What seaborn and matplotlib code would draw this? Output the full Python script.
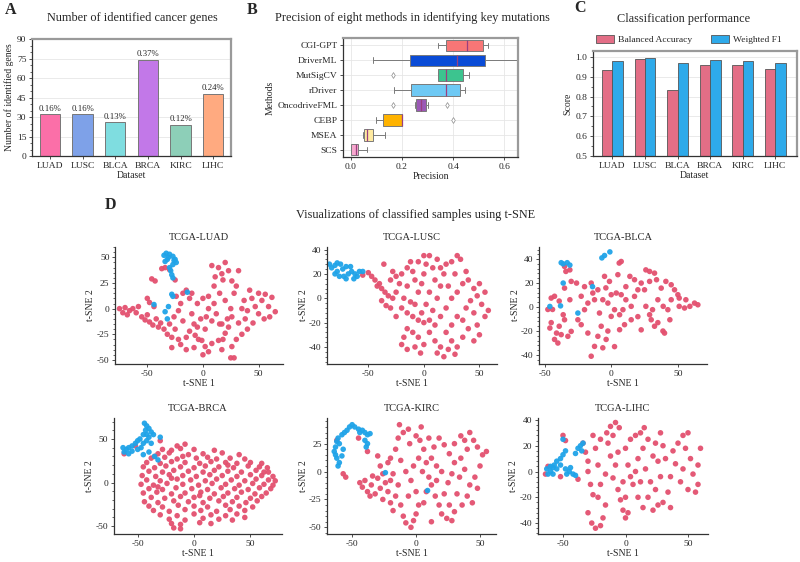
import numpy as np
import pandas as pd
import matplotlib
matplotlib.use('Agg')
import matplotlib.pyplot as plt
import seaborn as sns
from matplotlib.ticker import AutoMinorLocator, MultipleLocator

# ---------------- data ----------------
datasets = ['LUAD', 'LUSC', 'BLCA', 'BRCA', 'KIRC', 'LIHC']

# A: number of identified cancer genes
gene_counts = [32, 32, 26, 74, 24, 48]
gene_pct = ['0.16%', '0.16%', '0.13%', '0.37%', '0.12%', '0.24%']
bar_colors = ['#fb6fa8', '#7ea1e8', '#7fdde0', '#c278e8', '#8dcfb8', '#ffaa80']

# B: precision of the eight methods
methods = ['CGI-GPT', 'DriverML', 'MutSigCV', 'rDriver', 'OncodriveFML', 'CEBP', 'MSEA', 'SCS']
method_colors = ['#f87676', '#0a4bd6', '#3cc48f', '#6ec9f4', '#9b59b6', '#ffb300', '#ffeaa0', '#f7a8cf']
prec_cgi = [0.34, 0.355, 0.37, 0.42, 0.455, 0.48, 0.515, 0.525, 0.535]
prec_driverml = [0.085, 0.15, 0.23, 0.33, 0.415, 0.47, 0.525, 0.60, 0.67]
prec_mutsig = [0.165, 0.34, 0.34, 0.355, 0.37, 0.40, 0.44, 0.46, 0.66]
prec_rdriver = [0.17, 0.20, 0.235, 0.30, 0.37, 0.40, 0.425, 0.435, 0.445]
prec_oncofml = [0.165, 0.25, 0.255, 0.265, 0.275, 0.285, 0.295, 0.30, 0.375]
prec_cebp = [0.10, 0.11, 0.125, 0.16, 0.20, 0.20, 0.20, 0.20, 0.40]
prec_msea = [0.048, 0.049, 0.05, 0.058, 0.065, 0.075, 0.085, 0.11, 0.133]
prec_scs = [0.0, 0.0, 0.002, 0.01, 0.02, 0.024, 0.027, 0.04, 0.063]

# C: classification performance
bal_acc = [0.935, 0.988, 0.833, 0.957, 0.960, 0.940]
weighted_f1 = [0.979, 0.994, 0.972, 0.986, 0.982, 0.972]

# D: t-SNE coordinates
luad_red = [(-75, 0), (-72, -4), (-70, 1), (-68, -6), (-66, -2), (-63, 0), (-60, -4), (-58, 2), (-55, -8),
            (-52, -11), (-50, -6), (-48, -13), (-45, -16), (-42, -10), (-40, -18), (-38, -14),
            (-50, 10), (-48, 6), (-44, 2), (-46, 29), (-43, 27), (-37, 39), (-34, 40), (-25, 28), (-30, 38),
            (-35, -20), (-32, -25), (-28, -28), (-30, -15), (-25, -20), (-22, -30), (-26, -8), (-22, -2),
            (-20, 5), (-24, 12), (-18, 15), (-15, 18), (-12, 10), (-10, -5), (-8, -15), (-12, -22), (-7, -26),
            (-4, -30), (-1, -31), (2, -37), (5, -42), (0, -45), (8, -34), (-15, -28), (-18, -12), (-5, 5),
            (0, 10), (5, 0), (3, -8), (8, -12), (10, 5), (12, -5), (15, -15), (14, -31), (17, -40), (20, -24),
            (23, -18), (17, -15), (26, -37), (25, -48), (28, -48), (18, -30), (22, -10), (25, 0), (20, 8),
            (15, 15), (10, 22), (28, 15), (8, 42), (14, 40), (20, 45), (23, 37), (17, 34), (11, 31), (26, 27),
            (32, 37), (18, 28), (30, 22), (56, 14), (62, 11), (53, 8), (59, 2), (65, -3), (44, 10), (47, 2),
            (40, -2), (38, -10), (26, -8), (32, -14), (37, 8), (50, -5), (55, -10), (45, -14), (60, -8),
            (35, 0), (50, 15), (42, 18), (35, -25), (40, -20), (30, -30), (-10, 15), (-5, -18), (2, -20),
            (-2, -10), (5, 12), (-28, -38), (-20, -35), (-15, -40), (-8, -38)]
luad_blue = [(-35, 52), (-33, 54), (-30, 53), (-27, 51), (-25, 48), (-24, 45), (-27, 43), (-30, 40),
             (-29, 37), (-28, 33), (-27, 30), (-32, 48), (-34, 46), (-31, 50), (-26, 47), (-28, 14),
             (-27, 12), (-14, 16), (-44, 4), (-34, -3), (-32, -10), (-31, 2)]

lusc_red = [(-55, 19), (-50, 21), (-47, 18), (-44, 15), (-40, 12), (-36, 28), (-38, 8), (-42, 10), (-35, 5),
            (-32, 2), (-38, -2), (-34, -6), (-30, -8), (-28, 0), (-25, 5), (-22, 12), (-25, 18), (-20, 20),
            (-15, 25), (-12, 30), (-10, 22), (-8, 15), (-15, 10), (-18, 0), (-12, -3), (-20, -8), (-15, -12),
            (-8, -5), (-5, 5), (-2, 12), (0, 20), (2, 28), (5, 35), (0, 35), (8, 25), (10, 15), (5, 5), (2, -5),
            (8, -10), (12, 0), (15, 10), (18, 20), (20, 28), (25, 30), (30, 35), (33, 32), (28, 20), (22, 10),
            (25, 0), (20, -8), (15, -15), (30, 5), (35, 12), (40, 15), (45, 8), (50, 12), (48, 2), (42, -2),
            (52, -5), (58, -10), (55, -15), (45, -12), (38, -8), (35, -18), (40, -25), (48, -22), (50, -30),
            (45, -35), (35, -32), (30, -40), (25, -35), (20, -28), (15, -40), (12, -45), (18, -48), (28, -46),
            (22, -42), (10, -35), (5, -28), (0, -38), (-5, -32), (-10, -28), (-15, -25), (-18, -32),
            (-20, -38), (-15, -42), (-8, -40), (-3, -45), (0, -20), (-5, -18), (5, -18), (-2, -12), (10, -22),
            (-25, -15), (-30, 15), (12, 32), (-5, 30), (38, 22), (55, 5), (30, -15), (25, -22), (-10, -15),
            (15, 25), (-28, 22)]
lusc_blue = [(-85, 28), (-83, 25), (-80, 27), (-78, 22), (-75, 28), (-73, 24), (-70, 26), (-68, 20),
             (-72, 18), (-76, 18), (-65, 22), (-62, 20), (-60, 18), (-58, 22), (-55, 22), (-80, 20),
             (-66, 26), (-70, 16), (-63, 16), (-78, 29)]

blca_red = [(-45, 7.5), (-42.5, 9), (-44, -2), (-46, -17.5), (-41, -21.7), (-40, -30), (-37.5, -23),
            (-32.5, -24.4), (-30, -20.3), (-35, -10.6), (-36, -6.4), (-31, 6.1), (-35, 15.8), (-30, 21.4),
            (-26, 20), (-34, 29.7), (-35, 33.9), (-31, 31), (-42.5, -27), (-45, -13), (-39, -16), (-39, 5),
            (-47.5, -2), (-22.5, -14.7), (-20, -2.2), (-12.5, 6.1), (-13.8, 11.7), (-15, 20), (-10, 14.4),
            (-6.3, 6.1), (-8.8, -5), (-7.5, -16), (-10, -24.4), (-12.5, -32.8), (-15, -41), (-6.3, -34),
            (-3.8, -27), (-2.5, -20), (0, -7.8), (2.5, -2.2), (-5, 25.6), (-1.3, 21.4), (5, 27), (3.8, 11.7),
            (7.5, 10.3), (11, 6.1), (8.8, -2.2), (6.3, -6.4), (10, -14.7), (6.3, -18.9), (15, -10.6),
            (15, 0.6), (17.5, 8.9), (20, 14.4), (22.5, 20), (26, 31), (28.8, 29.7), (32.5, 28.3),
            (28.8, 21.4), (25, 14.4), (26, 0.6), (28.8, -6.4), (30, -10.6), (32.5, -16), (35, -13),
            (38.8, -20), (40, -21.7), (31, -2.2), (35, 6.1), (37.5, 15.8), (41, 21.4), (45, 18.6),
            (47.5, 14.4), (50, 10.3), (45, 6.1), (51, 0.6), (55, -0.8), (59, 0.6), (62.5, 3.3), (65, 1.9),
            (56, 6.1), (51, 7.5), (42.5, -2.2), (7.5, 38), (6, 36.7), (-20, 17), (-22.5, 9), (-17.5, 3.3),
            (-25, -10.6), (-17.5, -21.7), (2.5, -33), (20, -8), (22.5, -19), (14, 25.6), (17.5, 22.8),
            (11, 17), (34, 22.8), (39, 0.6), (44, -10.6), (0, 10.3), (-4, 16), (-2.5, 3.3)]
blca_blue = [(-37.5, 37), (-36, 36), (-33, 37), (-31, 35), (-7, 41), (-5, 43), (-1, 46), (-46, 0.5),
             (-38, 1), (-36, 20), (-25, -5), (-14, 17)]

brca_red = [(-15, 42), (-8, 44), (-28, 38), (-20, 37), (-12, 39), (0, 38), (18, 37), (-32, 33), (-22, 34),
            (-5, 32), (8, 33), (25, 34), (40, 32), (-38, 28), (-26, 29), (-15, 27), (2, 28), (12, 29),
            (20, 27), (32, 28), (45, 27), (-42, 23), (-30, 22), (-20, 24), (-8, 23), (5, 22), (15, 24),
            (28, 23), (38, 22), (50, 23), (-45, 18), (-35, 17), (-25, 19), (-12, 18), (0, 17), (10, 19),
            (22, 18), (35, 17), (48, 19), (58, 18), (65, 17), (-40, 13), (-28, 12), (-18, 14), (-5, 13),
            (8, 12), (18, 14), (30, 13), (42, 12), (55, 14), (62, 12), (-46, 8), (-34, 7), (-22, 9), (-10, 8),
            (2, 7), (14, 9), (25, 8), (38, 7), (50, 9), (60, 8), (70, 7), (-42, 3), (-30, 2), (-15, 4),
            (-3, 3), (10, 2), (20, 4), (33, 3), (45, 2), (55, 4), (66, 3), (72, 2), (-47, -2), (-36, -3),
            (-24, -1), (-10, -2), (4, -3), (16, -1), (28, -2), (40, -3), (52, -1), (62, -2), (70, -3),
            (-40, -7), (-28, -8), (-16, -6), (-2, -7), (12, -8), (24, -6), (36, -7), (48, -8), (58, -6),
            (68, -7), (-45, -12), (-33, -11), (-20, -13), (-8, -12), (6, -11), (18, -13), (30, -12),
            (42, -11), (54, -13), (64, -12), (-38, -17), (-26, -18), (-12, -16), (0, -17), (14, -18),
            (26, -16), (38, -17), (50, -18), (60, -16), (-44, -22), (-32, -23), (-18, -21), (-5, -22),
            (8, -23), (22, -21), (34, -22), (46, -23), (56, -21), (-40, -27), (-28, -28), (-14, -26),
            (0, -27), (12, -28), (28, -26), (40, -27), (52, -28), (-36, -32), (-22, -33), (-8, -31),
            (6, -32), (20, -33), (32, -31), (45, -32), (-30, -37), (-15, -38), (0, -36), (15, -37),
            (28, -38), (38, -36), (-22, -42), (-8, -43), (8, -41), (22, -42), (34, -43), (-20, -47),
            (-12, -48), (5, -46), (15, -47), (-18, -52), (-12, -53), (-62, 33), (-52, 42), (-35, 30),
            (-30, 48), (-10, 30), (30, 20), (-32, -5), (60, 22), (5, -15), (-20, 5), (45, -40), (66, 12)]
brca_blue = [(-62, 35), (-60, 38), (-58, 40), (-55, 42), (-52, 45), (-50, 48), (-48, 50), (-45, 55),
             (-43, 60), (-42, 65), (-44, 68), (-40, 62), (-38, 58), (-40, 52), (-42, 48), (-45, 45),
             (-38, 45), (-35, 30), (-32, 26), (-55, 36), (-50, 38), (-47, 40), (-63, 40), (-58, 33),
             (-42, 55), (-36, 55), (-30, 52), (-40, 35), (-45, 32)]

kirc_red = [(-62, 28), (-57, -2), (-55, -5), (-45, 30), (-38, 18), (-30, 14), (-22, 8), (-20, 12), (-44, -10),
            (-42, -14), (-40, -8), (-38, -18), (-35, -12), (-32, -20), (-30, -6), (-28, -15), (-26, -25),
            (-24, -10), (-22, -18), (-20, -28), (-18, -35), (-16, -22), (-14, -12), (-12, -30), (-10, -40),
            (-8, -46), (-4, -50), (-2, -44), (0, -38), (2, -30), (-6, -22), (-4, -8), (-8, 0), (-12, 10),
            (-16, 20), (-14, 30), (-13, 42), (-10, 35), (-5, 25), (0, 32), (3, 28), (6, 20), (2, 12), (-2, 5),
            (5, 0), (8, 8), (10, -5), (12, -12), (15, -22), (18, -30), (20, -38), (24, -42), (28, -44),
            (30, -36), (26, -30), (22, -20), (25, -10), (28, -2), (30, 8), (26, 16), (22, 24), (18, 30),
            (14, 22), (10, 30), (12, 12), (16, 5), (20, 0), (34, -5), (38, 2), (35, 12), (40, 20), (38, 28),
            (35, 32), (42, 35), (45, 28), (48, 22), (52, 15), (50, 5), (46, -5), (42, -12), (40, -22),
            (36, -30), (32, -20), (48, -15), (44, -28), (-18, -2), (-26, -2), (-34, -4), (-36, -22),
            (0, -18), (6, -28), (-28, 5), (55, 18), (30, 25), (8, -18), (12, -45), (16, -8), (4, 40),
            (-6, 38), (-20, -8)]
kirc_blue = [(-64, 18), (-63, 22), (-62, 27), (-61, 30), (-60, 25), (-58, 33), (-56, 35), (-54, 37),
             (-52, 40), (-50, 42), (-48, 40), (-45, 38), (-42, 37), (-40, 35), (-38, 33), (-36, 34),
             (-40, 28), (-39, 22), (-38, 25), (-62, 12), (-60, 8), (-58, 14), (-61, 5), (-63, 15),
             (-24, -1), (9, -17), (-44, 35), (-57, 20)]

lihc_red = [(-50, 28), (-48, 24), (-64, -2), (-62, 4), (-52, -4), (-38, -6), (-32, 15), (-30, 8), (-30, 0),
            (-28, -10), (-26, -18), (-30, -32), (-27, -40), (-24, -44), (-20, -42), (-18, -36), (-22, -20),
            (-20, -10), (-22, 5), (-24, 18), (-20, 25), (-15, 30), (-12, 35), (-8, 38), (-5, 34), (-10, 28),
            (-14, 22), (-12, 12), (-8, 5), (-10, -5), (-6, -14), (-4, -22), (-2, -30), (0, -36), (2, -32),
            (0, -20), (-2, -8), (2, 5), (0, 18), (4, 25), (8, 28), (12, 30), (15, 34), (18, 25), (14, 18),
            (10, 10), (8, 0), (6, -10), (10, -20), (14, -28), (18, -20), (20, -8), (16, 2), (22, 12),
            (24, 22), (28, 30), (30, 20), (26, 8), (28, -4), (24, -14), (30, -24), (34, -16), (36, -4),
            (40, 6), (38, 16), (42, 22), (46, 28), (50, 30), (48, 18), (52, 10), (46, 2), (44, -8),
            (50, -14), (56, -16), (58, -10), (54, -2), (58, 5), (60, 18), (36, -28), (22, -30), (-16, -2),
            (-26, 28), (-34, 22), (-16, -26), (32, 10), (4, -4), (26, -26), (-6, 15), (12, -8)]
lihc_blue = [(-63, 2), (-60, 0), (-58, 3), (-62, -2), (-57, 5), (-55, 8), (-52, 10), (-50, 13), (-48, 16),
             (-52, 5), (-48, 2), (-45, 0), (-42, -2), (-40, -3), (-44, 3), (-38, 18), (-36, 20), (-35, 16),
             (-40, 14), (-34, 22), (-50, 25), (-58, -2), (-60, 4), (-55, 2), (-47, -2)]

tsne_panels = [
    ('TCGA-LUAD', luad_red, luad_blue, (-79, 72), (-54, 60), 25),
    ('TCGA-LUSC', lusc_red, lusc_blue, (-87, 66), (-54, 42), 20),
    ('TCGA-BLCA', blca_red, blca_blue, (-54, 72), (-47.5, 50), 20),
    ('TCGA-BRCA', brca_red, brca_blue, (-71, 78), (-59, 74), 50),
    ('TCGA-KIRC', kirc_red, kirc_blue, (-69.5, 62.5), (-56, 48), 25),
    ('TCGA-LIHC', lihc_red, lihc_blue, (-70, 66), (-48.5, 41.5), 20),
]
tsne_pos = [
    [0.1438, 0.3523, 0.210, 0.208], [0.409, 0.3523, 0.2125, 0.208], [0.674, 0.3523, 0.210, 0.208],
    [0.1425, 0.0498, 0.210, 0.2064], [0.409, 0.0498, 0.211, 0.2064], [0.6725, 0.0498, 0.2125, 0.2064],
]

# ---------------- style ----------------
sns.set_style("whitegrid")
plt.rcParams['font.family'] = ['Liberation Serif', 'DejaVu Serif']
plt.rcParams['axes.unicode_minus'] = False
plt.rcParams['grid.color'] = '#e6e6e6'
plt.rcParams['grid.linewidth'] = 0.6

fig = plt.figure(figsize=(8, 5.62), dpi=100)


def frame_axes(ax):
    for side in ['left', 'bottom']:
        ax.spines[side].set_color('#333333')
        ax.spines[side].set_linewidth(0.9)
    for side in ['top', 'right']:
        ax.spines[side].set_color('#9a9a9a')
        ax.spines[side].set_linewidth(1.6)
    ax.tick_params(axis='both', labelsize=6.8, length=2.5, width=0.6, color='#333333',
                   left=True, bottom=True, pad=1.5)


# ---------------- A ----------------
axA = fig.add_axes([0.040, 0.7224, 0.249, 0.208])
dfA = pd.DataFrame({'Dataset': datasets, 'Count': gene_counts})
sns.barplot(data=dfA, x='Dataset', y='Count', hue='Dataset', palette=bar_colors, legend=False,
            saturation=1, width=0.62, edgecolor='#777777', linewidth=0.7, ax=axA)
for i, (c, p) in enumerate(zip(gene_counts, gene_pct)):
    axA.text(i, c + 1.2, p, ha='center', va='bottom', fontsize=6.3)
axA.set_ylim(0, 90)
axA.set_xlim(-0.55, 5.55)
axA.yaxis.set_major_locator(MultipleLocator(15))
axA.yaxis.set_minor_locator(AutoMinorLocator(3))
axA.tick_params(axis='y', which='minor', length=1.5, width=0.5, left=True)
axA.set_xlabel('Dataset', fontsize=7, labelpad=1)
axA.set_ylabel('Number of identified genes', fontsize=7, labelpad=2)
frame_axes(axA)
fig.text(0.166, 0.968, 'Number of identified cancer genes', ha='center', va='center', fontsize=8.8)
fig.text(0.006, 0.982, 'A', ha='left', va='center', fontsize=11.5, fontweight='bold')

# ---------------- B ----------------
axB = fig.add_axes([0.429, 0.7206, 0.219, 0.2117])
prec_lists = [prec_cgi, prec_driverml, prec_mutsig, prec_rdriver, prec_oncofml, prec_cebp, prec_msea, prec_scs]
dfB = pd.DataFrame({'Method': [m for m, v in zip(methods, prec_lists) for _ in v],
                    'Precision': [x for v in prec_lists for x in v]})
sns.boxplot(data=dfB, x='Precision', y='Method', hue='Method', order=methods, hue_order=methods,
            palette=method_colors, legend=False, saturation=1, width=0.78, linecolor='#7a7a7a',
            linewidth=0.7, medianprops={'color': '#9b3f7f', 'linewidth': 0.9},
            flierprops={'marker': 'd', 'markersize': 3, 'markerfacecolor': 'white',
                        'markeredgecolor': '#8a8a8a', 'markeredgewidth': 0.5}, ax=axB)
axB.set_xlim(-0.03, 0.655)
axB.xaxis.set_major_locator(MultipleLocator(0.2))
axB.set_xlabel('Precision', fontsize=7, labelpad=1)
axB.set_ylabel('Methods', fontsize=7, labelpad=2)
frame_axes(axB)
axB.grid(True, axis='both')
fig.text(0.515, 0.968, 'Precision of eight methods in identifying key mutations', ha='center', va='center',
         fontsize=8.8)
fig.text(0.308, 0.982, 'B', ha='left', va='center', fontsize=11.5, fontweight='bold')

# ---------------- C ----------------
axC = fig.add_axes([0.741, 0.7224, 0.255, 0.1868])
dfC = pd.DataFrame({'Dataset': datasets * 2,
                    'Score': bal_acc + weighted_f1,
                    'Metric': ['Balanced Accuracy'] * 6 + ['Weighted F1'] * 6})
sns.barplot(data=dfC, x='Dataset', y='Score', hue='Metric', palette=['#e36e86', '#2eaaea'],
            saturation=1, width=0.64, edgecolor='#555555', linewidth=0.6, ax=axC)
axC.set_ylim(0.5, 1.03)
axC.set_xlim(-0.6, 5.66)
axC.yaxis.set_major_locator(MultipleLocator(0.1))
axC.yaxis.set_minor_locator(AutoMinorLocator(2))
axC.tick_params(axis='y', which='minor', length=1.5, width=0.5, left=True)
axC.set_xlabel('Dataset', fontsize=7, labelpad=1)
axC.set_ylabel('Score', fontsize=7, labelpad=2)
frame_axes(axC)
axC.legend(loc='lower center', bbox_to_anchor=(0.47, 1.0), ncol=2, frameon=False, fontsize=6.8,
           handlelength=1.9, handleheight=0.9, handletextpad=0.4, columnspacing=2.0, borderaxespad=0.3)
fig.text(0.855, 0.966, 'Classification performance', ha='center', va='center', fontsize=8.8)
fig.text(0.718, 0.985, 'C', ha='left', va='center', fontsize=11.5, fontweight='bold')

# ---------------- D ----------------
fig.text(0.131, 0.635, 'D', ha='left', va='center', fontsize=11.5, fontweight='bold')
fig.text(0.52, 0.617, 'Visualizations of classified samples using t-SNE', ha='center', va='center',
         fontsize=8.8)

for (name, red, blue, xl, yl, ystep), pos in zip(tsne_panels, tsne_pos):
    ax = fig.add_axes(pos)
    ax.set_facecolor('white')
    dfD = pd.DataFrame(red + blue, columns=['x', 'y'])
    dfD['cls'] = ['other'] * len(red) + ['target'] * len(blue)
    sns.scatterplot(data=dfD, x='x', y='y', hue='cls', palette={'other': '#e3506f', 'target': '#1fa3e8'},
                    s=16, linewidth=0, alpha=0.95, legend=False, ax=ax)
    ax.set_xlim(*xl)
    ax.set_ylim(*yl)
    ax.grid(False)
    ax.xaxis.set_major_locator(MultipleLocator(50))
    ax.yaxis.set_major_locator(MultipleLocator(ystep))
    ax.yaxis.set_minor_locator(AutoMinorLocator(5))
    for side in ['top', 'right']:
        ax.spines[side].set_visible(False)
    for side in ['left', 'bottom']:
        ax.spines[side].set_color('#333333')
        ax.spines[side].set_linewidth(0.9)
    ax.tick_params(axis='both', which='major', labelsize=6.8, length=2.5, width=0.6, color='#333333',
                   left=True, bottom=True, pad=1.5)
    ax.tick_params(axis='y', which='minor', length=1.3, width=0.5, left=True)
    ax.set_title(name, fontsize=7.5, pad=5)
    ax.set_xlabel('t-SNE 1', fontsize=7, labelpad=1)
    ax.set_ylabel('t-SNE 2', fontsize=7, labelpad=1)

fig.savefig('out.png', dpi=100)
